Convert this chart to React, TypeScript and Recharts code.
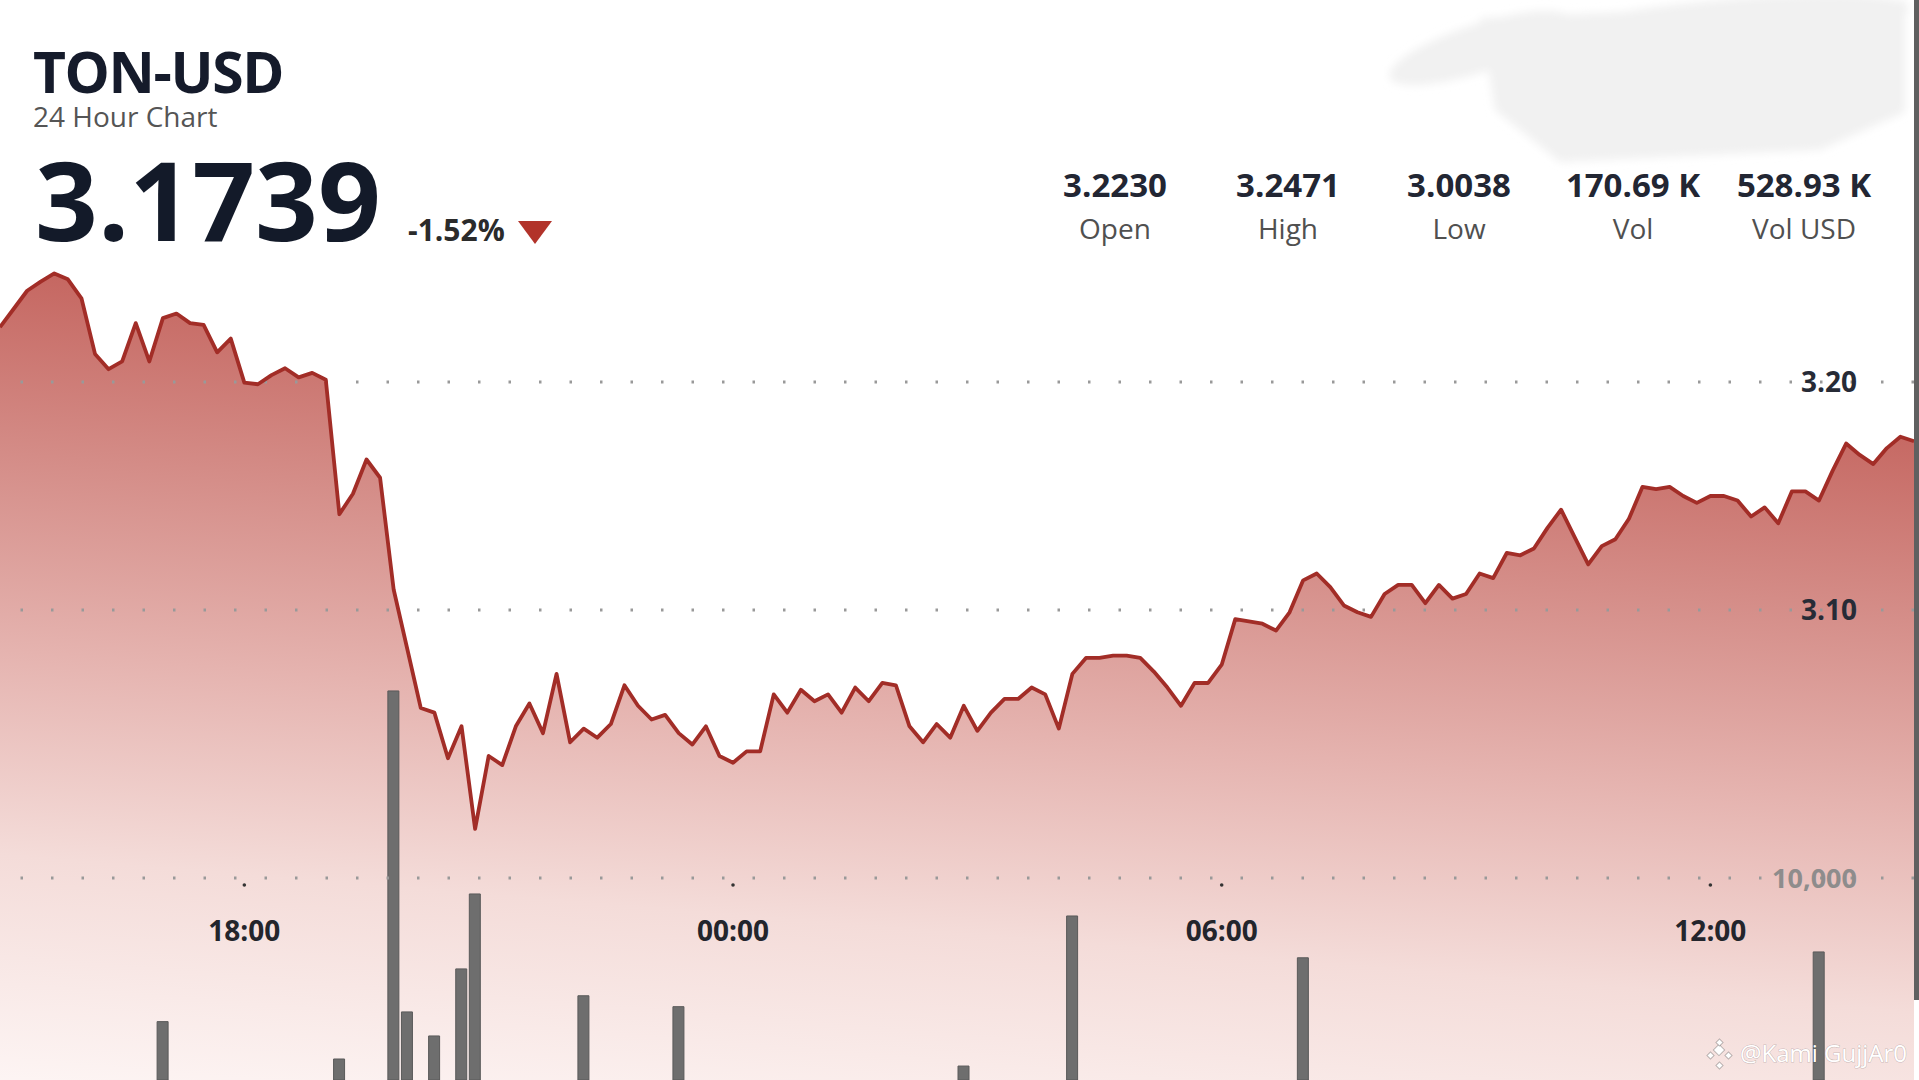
import { ComposedChart, Area, Bar, Line, XAxis, YAxis, ReferenceLine } from "recharts";

const SYMBOL = "TON-USD";
const SUBTITLE = "24 Hour Chart";
const LAST_PRICE = "3.1739";
const CHANGE = "-1.52%";
const STAT_VALUES = ["3.2230", "3.2471", "3.0038", "170.69 K", "528.93 K"];
const STAT_LABELS = ["Open", "High", "Low", "Vol", "Vol USD"];

// 10-minute prices, 15:00 -> 14:30
const PRICES = [
  3.224, 3.232, 3.24, 3.244, 3.2476, 3.245, 3.2367, 3.2123, 3.2056, 3.209,
  3.2258, 3.209, 3.228, 3.23, 3.2258, 3.225, 3.213, 3.219, 3.1997, 3.199,
  3.203, 3.206, 3.202, 3.204, 3.201, 3.142, 3.151, 3.166, 3.158, 3.109,
  3.083, 3.057, 3.055, 3.035, 3.049, 3.004, 3.036, 3.032, 3.049, 3.059,
  3.046, 3.072, 3.042, 3.048, 3.044, 3.05, 3.067, 3.058, 3.052, 3.054,
  3.046, 3.041, 3.049, 3.036, 3.033, 3.038, 3.038, 3.063, 3.055, 3.065,
  3.06, 3.063, 3.055, 3.066, 3.06, 3.068, 3.067, 3.049, 3.042, 3.05,
  3.044, 3.058, 3.047, 3.055, 3.061, 3.061, 3.066, 3.063, 3.048, 3.072,
  3.079, 3.079, 3.08, 3.08, 3.079, 3.073, 3.066, 3.058, 3.068, 3.068,
  3.076, 3.096, 3.095, 3.094, 3.091, 3.099, 3.113, 3.116, 3.11, 3.102,
  3.099, 3.097, 3.107, 3.111, 3.111, 3.103, 3.111, 3.105, 3.107, 3.116,
  3.114, 3.125, 3.124, 3.127, 3.136, 3.144, 3.132, 3.12, 3.128, 3.131,
  3.14, 3.154, 3.153, 3.154, 3.15, 3.147, 3.15, 3.15, 3.148, 3.141,
  3.145, 3.138, 3.152, 3.152, 3.148, 3.161, 3.173, 3.168, 3.164, 3.171,
  3.176, 3.174,
];

// volume bars: slot index and size
const VOLUME_SLOTS = [12, 25, 29, 30, 32, 34, 35, 43, 50, 71, 79, 96, 134];
const VOLUMES = [2890, 1040, 19260, 3370, 2180, 5500, 9210, 4170, 3630, 690, 8120, 6050, 6340];

const TIME_TICKS = [18, 54, 90, 126];
const TIME_LABELS = ["18:00", "00:00", "06:00", "12:00"];
const PRICE_TICKS = [3.1, 3.2];
const VOLUME_TICKS = [10000];

const W = 1914;
const H = 1080;
const LABEL_RIGHT = 1857;
const FONT = "'Open Sans', 'Noto Sans', sans-serif";

const rows = PRICES.map((price, t) => {
  const k = VOLUME_SLOTS.indexOf(t);
  return { t, price, vol: k >= 0 ? VOLUMES[k] : null };
});

function TimeTick(props: any) {
  const { x, payload } = props;
  const k = TIME_TICKS.indexOf(payload.value);
  return (
    <g>
      <circle cx={x} cy={885} r={1.8} fill="#333" />
      <text x={x} y={941} textAnchor="middle" fontFamily={FONT} fontSize={28} fontWeight={700} fill="#23252c">
        {TIME_LABELS[k]}
      </text>
    </g>
  );
}

function PriceTick(props: any) {
  const { y, payload } = props;
  return (
    <text x={LABEL_RIGHT} y={y + 10} textAnchor="end" fontFamily={FONT} fontSize={28} fontWeight={700} fill="#272b36">
      {Number(payload.value).toFixed(2)}
    </text>
  );
}

function VolumeTick(props: any) {
  const { y, payload } = props;
  return (
    <text x={LABEL_RIGHT} y={y + 10} textAnchor="end" fontFamily={FONT} fontSize={27} fontWeight={700} fill="#8e8c8c">
      {Number(payload.value).toLocaleString("en-US")}
    </text>
  );
}

const STAT_X = [1115, 1288, 1459, 1633, 1804];

export default function App() {
  return (
    <div style={{ position: "fixed", left: 0, top: 0, width: 1919, height: 1080, background: "#fff", overflow: "hidden" }}>
      <div style={{ position: "absolute", left: 0, top: 0 }}>
        <ComposedChart width={W} height={H} data={rows} margin={{ top: 0, right: 0, bottom: 0, left: 0 }}>
          <defs>
            <linearGradient id="tonFill" gradientUnits="userSpaceOnUse" x1={0} y1={230} x2={-70} y2={1080}>
              <stop offset="0" stopColor="#c25f59" />
              <stop offset="0.26" stopColor="#d48c87" />
              <stop offset="0.49" stopColor="#e5b3af" />
              <stop offset="0.73" stopColor="#f4dcd9" />
              <stop offset="1" stopColor="#fdf5f4" />
            </linearGradient>
          </defs>
          <XAxis
            dataKey="t"
            type="number"
            domain={[0, PRICES.length - 1]}
            ticks={TIME_TICKS}
            interval={0}
            mirror
            axisLine={false}
            tickLine={false}
            tick={(p: any) => <TimeTick {...p} />}
            allowDataOverflow
          />
          <YAxis
            yAxisId="p"
            orientation="right"
            mirror
            domain={[2.8939, 3.3675]}
            ticks={PRICE_TICKS}
            interval={0}
            axisLine={false}
            tickLine={false}
            tick={(p: any) => <PriceTick {...p} />}
            allowDataOverflow
          />
          <YAxis
            yAxisId="v"
            orientation="right"
            mirror
            domain={[0, 53465]}
            ticks={VOLUME_TICKS}
            interval={0}
            axisLine={false}
            tickLine={false}
            tick={(p: any) => <VolumeTick {...p} />}
            allowDataOverflow
          />
          <Area
            yAxisId="p"
            dataKey="price"
            type="linear"
            stroke="none"
            fill="url(#tonFill)"
            fillOpacity={1}
            activeDot={false}
            isAnimationActive={false}
          />
          {PRICE_TICKS.map((v) => (
            <ReferenceLine key={v} yAxisId="p" y={v} stroke="#999" strokeWidth={3} strokeDasharray="2.5 28" />
          ))}
          {VOLUME_TICKS.map((v) => (
            <ReferenceLine key={v} yAxisId="v" y={v} stroke="#999" strokeWidth={3} strokeDasharray="2.5 28" />
          ))}
          <Bar yAxisId="v" dataKey="vol" barSize={11} fill="#6e6e6e" stroke="#5a5a5a" strokeWidth={1} isAnimationActive={false} />
          <Line
            yAxisId="p"
            dataKey="price"
            type="linear"
            stroke="#a22d27"
            strokeWidth={3.8}
            strokeLinejoin="round"
            dot={false}
            activeDot={false}
            isAnimationActive={false}
          />
        </ComposedChart>
      </div>

      {/* header, watermark and screenshot edges */}
      <svg width={1919} height={1080} style={{ position: "absolute", left: 0, top: 0, pointerEvents: "none" }}>
        <defs>
          <filter id="smudge" x="-20%" y="-50%" width="140%" height="200%">
            <feGaussianBlur stdDeviation="4" />
          </filter>
        </defs>
        <g fill="#f1f1f1" filter="url(#smudge)">
          <polygon points="1480,18 1905,0 1905,112 1820,150 1560,162 1495,110" />
          <ellipse cx={1480} cy={48} rx={95} ry={24} transform="rotate(-18 1480 48)" />
          <ellipse cx={1700} cy={30} rx={210} ry={28} transform="rotate(-6 1700 30)" />
        </g>

        <text x={33} y={93} fontFamily={FONT} fontSize={57} fontWeight={700} letterSpacing={-1.4} fill="#151b2b">{SYMBOL}</text>
        <text x={33} y={127} fontFamily={FONT} fontSize={28} fill="#555">{SUBTITLE}</text>
        <text x={35} y={241} fontFamily={FONT} fontSize={110} fontWeight={700} fill="#131a29">{LAST_PRICE}</text>
        <text x={408} y={241} fontFamily={FONT} fontSize={30} fontWeight={700} fill="#2b2b2b">{CHANGE}</text>
        <polygon points="518,221 552,221 535,244" fill="#b2332a" />

        {STAT_VALUES.map((v, i) => (
          <g key={v}>
            <text x={STAT_X[i]} y={197} textAnchor="middle" fontFamily={FONT} fontSize={33} fontWeight={700} fill="#222633">{v}</text>
            <text x={STAT_X[i]} y={239} textAnchor="middle" fontFamily={FONT} fontSize={28} fill="#505050">{STAT_LABELS[i]}</text>
          </g>
        ))}

        <rect x={1914} y={0} width={5} height={1000} fill="#606060" />

        <g fill="#fff" stroke="rgba(0,0,0,0.25)" strokeWidth={1}>
          <rect x={1715} y={1046} width={8} height={8} transform="rotate(45 1719 1050)" />
          <rect x={1708} y={1053} width={5} height={5} transform="rotate(45 1710.5 1055.5)" />
          <rect x={1726} y={1053} width={5} height={5} transform="rotate(45 1728.5 1055.5)" />
          <rect x={1717} y={1040} width={5} height={5} transform="rotate(45 1719.5 1042.5)" />
          <rect x={1717} y={1063} width={5} height={5} transform="rotate(45 1719.5 1065.5)" />
        </g>
        <text x={1740} y={1062} fontFamily={FONT} fontSize={24} fill="#fff" stroke="rgba(0,0,0,0.22)" strokeWidth={1} style={{ paintOrder: "stroke" }}>
          @Kami GujjAr0
        </text>
      </svg>
    </div>
  );
}
